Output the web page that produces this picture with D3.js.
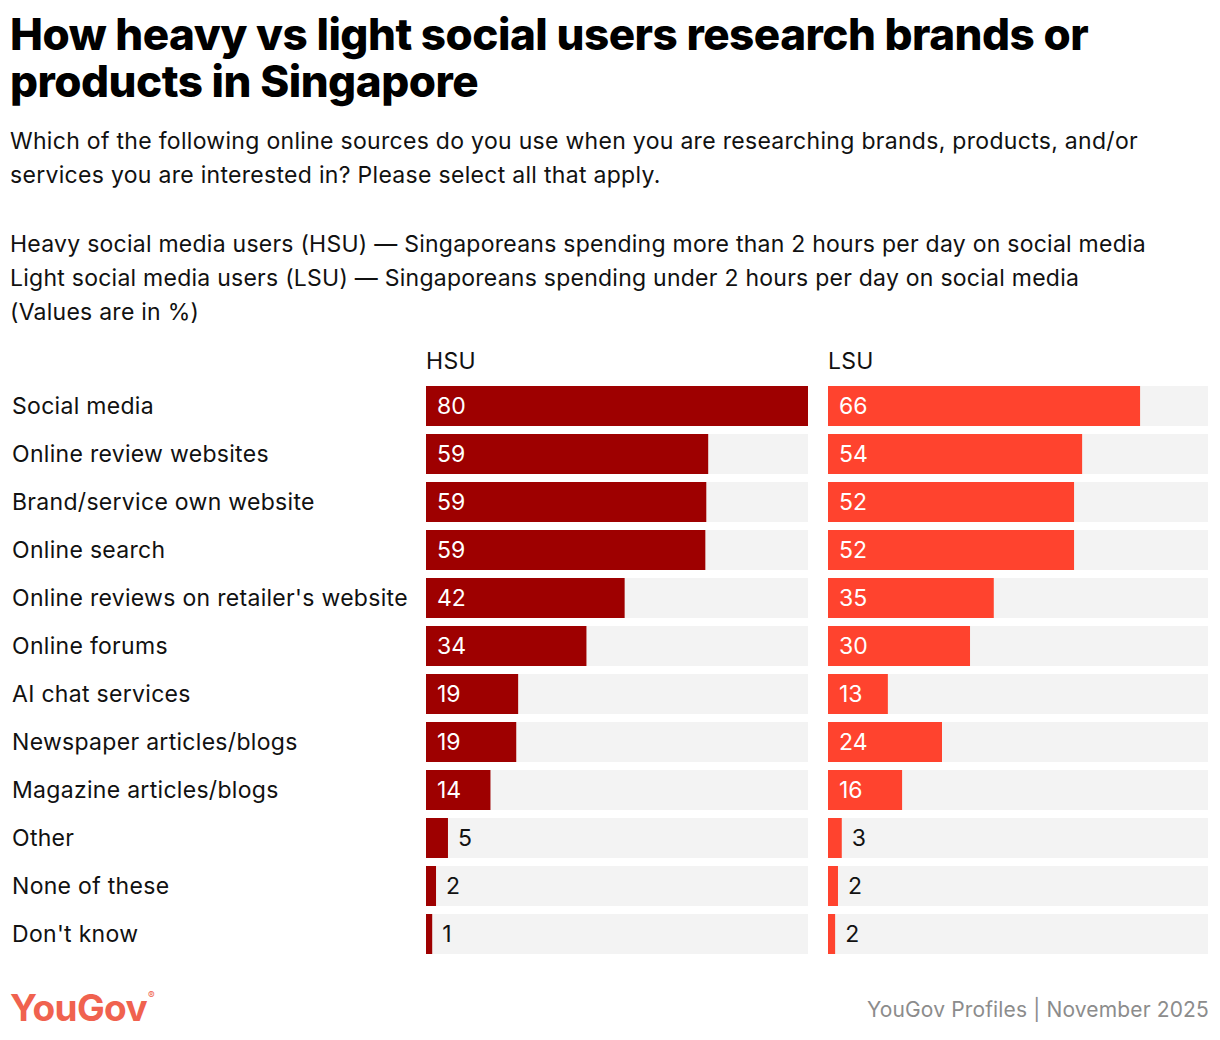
<!DOCTYPE html>
<html>
<head>
<meta charset="utf-8">
<script src="https://cdn.jsdelivr.net/npm/d3@7"></script>
<style>
  body { margin: 0; background: #fff; }
  svg { display: block; font-family: Inter, "Noto Sans", sans-serif; }
</style>
</head>
<body>
<svg id="chart"></svg>
<script>
const categories = [
    'Social media',
    'Online review websites',
    'Brand/service own website',
    'Online search',
    "Online reviews on retailer's website",
    'Online forums',
    'AI chat services',
    'Newspaper articles/blogs',
    'Magazine articles/blogs',
    'Other',
    'None of these',
    "Don't know",
];
// values, labels are rounded
const hsuValues = [80, 59.1, 58.7, 58.5, 41.6, 33.6, 19.3, 18.9, 13.5, 4.6, 2.1, 1.3];
const lsuValues = [65.7, 53.5, 51.8, 51.8, 34.9, 29.9, 12.6, 24.0, 15.6, 2.9, 2.1, 1.5];
const seriesNames = ['HSU', 'LSU'];

const titleLines = [
    'How heavy vs light social users research brands or',
    'products in Singapore',
];
const subtitleLines = [
    'Which of the following online sources do you use when you are researching brands, products, and/or',
    'services you are interested in? Please select all that apply.',
];
const noteLines = [
    'Heavy social media users (HSU) \u2014 Singaporeans spending more than 2 hours per day on social media',
    'Light social media users (LSU) \u2014 Singaporeans spending under 2 hours per day on social media',
    '(Values are in %)',
];

const width = 1220;
const height = 1040;

const svg = d3.select('#chart')
    .attr('width', width)
    .attr('height', height);

// title, one text block with a tspan per line
svg.append('text')
    .attr('font-size', '44px')
    .attr('font-weight', 800)
    .attr('letter-spacing', '-0.5px')
    .style('fill', '#000')
    .selectAll('tspan')
    .data(titleLines)
    .enter().append('tspan')
    .text(d => d)
    .attr('x', 10)
    .attr('y', (d, i) => 50 + i * 47);

svg.append('text')
    .attr('font-size', '23px')
    .attr('letter-spacing', '0.3px')
    .style('fill', '#111')
    .selectAll('tspan')
    .data(subtitleLines)
    .enter().append('tspan')
    .text(d => d)
    .attr('x', 10)
    .attr('y', (d, i) => 149 + i * 34);

svg.append('text')
    .attr('font-size', '23px')
    .attr('letter-spacing', '0.25px')
    .style('fill', '#111')
    .selectAll('tspan')
    .data(noteLines)
    .enter().append('tspan')
    .text(d => d)
    .attr('x', 10)
    .attr('y', (d, i) => 252 + i * 34);

const y = d3.scaleBand()
    .domain(categories)
    .range([386, 954])
    .paddingInner(8 / 48)
    .paddingOuter(0);

// category labels
svg.append('g')
    .selectAll('text')
    .data(categories)
    .enter().append('text')
    .text(d => d)
    .attr('x', 12)
    .attr('y', d => y(d) + y.bandwidth() / 2)
    .attr('dy', '0.35em')
    .attr('font-size', '23px')
    .attr('letter-spacing', '0.3px')
    .style('fill', '#111');

const panels = [
    { name: seriesNames[0], values: hsuValues, color: '#9e0000', x0: 426, w: 382 },
    { name: seriesNames[1], values: lsuValues, color: '#ff432e', x0: 828, w: 380 },
];

panels.forEach(p => {
    const x = d3.scaleLinear()
        .domain([0, 80])
        .range([0, p.w]);

    const g = svg.append('g')
        .attr('transform', `translate(${p.x0},0)`);

    g.append('text')
        .text(p.name)
        .attr('x', 0)
        .attr('y', 369)
        .attr('font-size', '23px')
        .attr('letter-spacing', '0.3px')
        .style('fill', '#111');

    const rows = g.selectAll('.row')
        .data(categories.map((c, i) => ({ cat: c, value: p.values[i] })))
        .enter().append('g')
        .attr('class', 'row')
        .attr('transform', d => `translate(0,${y(d.cat)})`);

    rows.append('rect')
        .attr('width', x(80))
        .attr('height', y.bandwidth())
        .style('fill', '#f3f3f3');

    rows.append('rect')
        .attr('width', d => x(d.value))
        .attr('height', y.bandwidth())
        .style('fill', p.color);

    rows.append('text')
        .text(d => Math.round(d.value))
        .attr('x', d => x(d.value) > 40 ? 11 : x(d.value) + 10)
        .attr('y', y.bandwidth() / 2)
        .attr('dy', '0.35em')
        .attr('font-size', '23px')
        .style('fill', d => x(d.value) > 40 ? '#fff' : '#111');
});

// footer
const logo = svg.append('text')
    .attr('x', 10)
    .attr('y', 1021)
    .attr('font-size', '37px')
    .attr('font-weight', 700)
    .attr('letter-spacing', '-0.6px')
    .style('fill', '#f0624f');
logo.append('tspan').text('YouGov');
logo.append('tspan')
    .text('\u00ae')
    .attr('font-size', '10px')
    .attr('font-weight', 400)
    .attr('dx', 1)
    .attr('dy', -22);

svg.append('text')
    .text('YouGov Profiles | November 2025')
    .attr('x', 1209)
    .attr('y', 1017)
    .attr('text-anchor', 'end')
    .attr('font-size', '21px')
    .attr('letter-spacing', '0.15px')
    .style('fill', '#8c8c8c');
</script>
</body>
</html>
